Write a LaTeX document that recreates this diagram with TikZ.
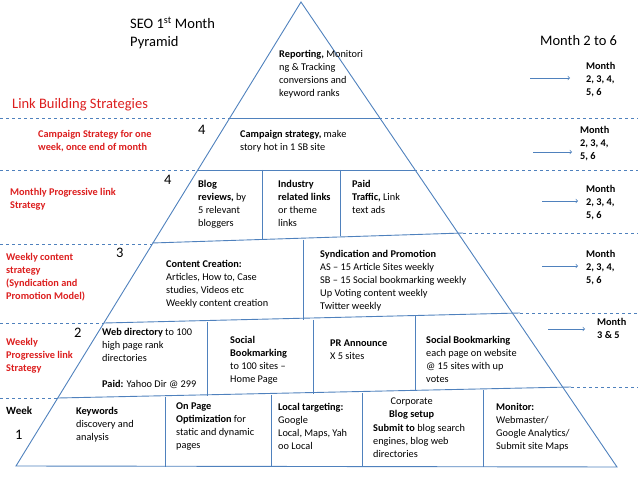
\documentclass[tikz,border=0pt]{standalone}
\usepackage{fontspec}
\setmainfont{Carlito}
\definecolor{ln}{RGB}{79,129,189}
\definecolor{rdc}{RGB}{220,30,30}
\begin{document}
\begin{tikzpicture}[x=1pt,y=-1pt,
  ln/.style={draw=ln, line width=0.9pt},
  dl/.style={draw=ln, dashed, line width=0.6pt},
  ar/.style={draw=ln, line width=0.7pt, ->},
  tx/.style={anchor=north west, inner sep=0pt, align=left, font=\fontsize{10.3}{13}\selectfont},
  rd/.style={tx, text=rdc, font=\bfseries\fontsize{10.3}{13}\selectfont},
  mo/.style={tx, font=\bfseries\fontsize{10.3}{13}\selectfont},
  big/.style={anchor=north west, inner sep=0pt, align=left, font=\fontsize{14.5}{18}\selectfont}]
\useasboundingbox (0,0) rectangle (638,478);
% triangle
\coordinate (A) at (301,2); \coordinate (L) at (16,466); \coordinate (R) at (617,467);
\draw[ln] (A) -- (L) -- (R) -- cycle;
% band lines (inside)
\draw[ln] (229,118) -- (379,118);
\draw[ln] (197,170) -- (414,170);
\draw[ln] (152,243) -- (463,233);
\draw[ln] (104,323) -- (520,313);
\draw[ln] (58,398) -- (571,387);
% dashed extensions
\draw[dl] (0,118) -- (229,118); \draw[dl] (379,118) -- (638,118);
\draw[dl] (0,170) -- (197,170); \draw[dl] (414,170) -- (638,170);
\draw[dl] (0,244) -- (152,244); \draw[dl] (463,233) -- (638,233);
\draw[dl] (0,323) -- (104,323); \draw[dl] (520,313) -- (638,313);
\draw[dl] (0,398) -- (58,398); \draw[dl] (571,387) -- (638,387);
% verticals
\draw[ln] (262,170) -- (262,240);
\draw[ln] (340,170) -- (340,236);
\draw[ln] (303,240) -- (303,320);
\draw[ln] (207,322) -- (207,396);
\draw[ln] (313,320) -- (313,394);
\draw[ln] (415,316) -- (415,391);
\draw[ln] (165,397) -- (165,467);
\draw[ln] (271,395) -- (271,467);
\draw[ln] (362,393) -- (362,467);
\draw[ln] (483,390) -- (483,467);
% titles
\node[big] (t1) at (130,17) {SEO 1\textsuperscript{st} Month\\Pyramid};
\node[big, text=rdc] (t2) at (12,98) {Link Building Strategies};
\node[big] (t3) at (540,35) {Month 2 to 6};
% left labels
\node[rd] (l1) at (38,130) {Campaign Strategy for one\\week, once end of month};
\node[rd] (l2) at (10,188) {Monthly Progressive  link\\Strategy};
\node[rd] (l3) at (6,253) {Weekly content\\strategy\\(Syndication and\\Promotion Model)};
\node[rd] (l4) at (6,338) {Weekly\\Progressive  link\\Strategy};
\node[mo, font=\bfseries\fontsize{11}{13}\selectfont] (wk) at (6,407) {Week};
% numbers
\node[big] (n4a) at (198,125) {4};
\node[big] (n4b) at (164,175) {4};
\node[big] (n3) at (116,248) {3};
\node[big] (n2) at (74,328) {2};
\node[big] (n1) at (15,430) {1};
% inner texts
\node[tx] (c1) at (279,50) {\textbf{Reporting,} Monitori\\ng \& Tracking\\conversions and\\keyword ranks};
\node[tx] (c2) at (240,130) {\textbf{Campaign strategy,} make\\story hot in 1 SB site};
\node[tx] (c3) at (198,180) {\textbf{Blog}\\\textbf{reviews,} by\\5 relevant\\bloggers};
\node[tx] (c4) at (278,180) {\textbf{Industry}\\\textbf{related links}\\or theme\\links};
\node[tx] (c5) at (352,180) {\textbf{Paid}\\\textbf{Traffic,} Link\\text ads};
\node[tx] (c6) at (166,260) {\textbf{Content Creation:}\\Articles, How to, Case\\studies, Videos etc\\Weekly  content creation};
\node[tx] (c7) at (320,250) {\textbf{Syndication and Promotion}\\AS -- 15 Article Sites weekly\\SB -- 15 Social bookmarking weekly\\Up Voting content weekly\\Twitter weekly};
\node[tx] (c8) at (102,328) {\textbf{Web directory} to 100\\high page rank\\directories\\[13pt]\textbf{Paid:} Yahoo Dir @ 299};
\node[tx] (c9) at (230,336) {\textbf{Social}\\\textbf{Bookmarking}\\to 100 sites --\\Home Page};
\node[tx] (c10) at (330,340) {\textbf{PR Announce}\\X 5 sites};
\node[tx] (c11) at (426,336) {\textbf{Social Bookmarking}\\each page on website\\@ 15 sites with up\\votes};
\node[tx] (c12) at (76,407) {\textbf{Keywords}\\discovery and\\analysis};
\node[tx] (c13) at (176,403) {\textbf{On Page}\\\textbf{Optimization} for\\static and dynamic\\pages};
\node[tx] (c14) at (278,403) {\textbf{Local  targeting:}\\Google\\Local, Maps, Yah\\oo Local};
\node[tx, align=center] (c15) at (389,398) {Corporate\\\textbf{Blog setup}};
\node[tx] (c16) at (373,424) {\textbf{Submit  to} blog search\\engines, blog web\\directories};
\node[tx] (c17) at (496,403) {\textbf{Monitor:}\\Webmaster/\\Google Analytics/\\Submit site Maps};
% right month labels
\node[mo] (m1) at (586,62) {Month\\2, 3, 4,\\5, 6};
\node[mo] (m2) at (580,126) {Month\\2, 3, 4,\\5, 6};
\node[mo] (m3) at (586,185) {Month\\2, 3, 4,\\5, 6};
\node[mo] (m4) at (586,250) {Month\\2, 3, 4,\\5, 6};
\node[mo] (m5) at (597,318) {Month\\3 \& 5};
\coordinate (a1) at (530,78); \coordinate (e1) at (570,78);
\coordinate (a2) at (533,152); \coordinate (e2) at (572,152);
\coordinate (a3) at (542,201); \coordinate (e3) at (578,201);
\coordinate (a4) at (542,266); \coordinate (e4) at (578,266);
\coordinate (a5) at (548,329); \coordinate (e5) at (585,329);
\draw[ar] (a1) -- (e1);
\draw[ar] (a2) -- (e2);
\draw[ar] (a3) -- (e3);
\draw[ar] (a4) -- (e4);
\draw[ar] (a5) -- (e5);
\end{tikzpicture}
\end{document}
